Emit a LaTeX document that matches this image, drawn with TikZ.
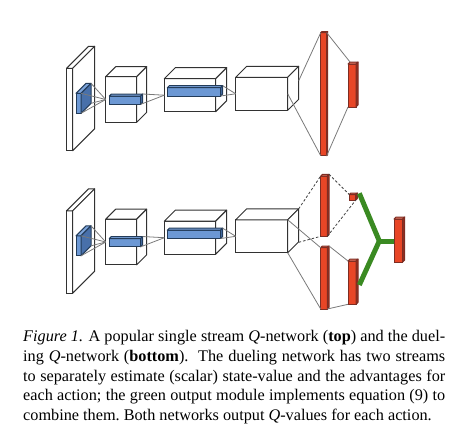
\documentclass[tikz,border=0pt]{standalone}
\usepackage{fontspec}
\setmainfont{Liberation Serif}
\usetikzlibrary{calc}

\definecolor{whitefront}{RGB}{255,255,255}
\definecolor{whitetop}{RGB}{255,255,255}
\definecolor{whiteside}{RGB}{255,255,255}
\definecolor{whiteline}{RGB}{50,50,50}
\definecolor{bluefront}{RGB}{108,152,212}
\definecolor{bluetop}{RGB}{125,165,220}
\definecolor{blueside}{RGB}{72,112,170}
\definecolor{blueline}{RGB}{35,60,90}
\definecolor{redfront}{RGB}{232,70,38}
\definecolor{redtop}{RGB}{225,120,100}
\definecolor{redside}{RGB}{150,45,30}
\definecolor{redline}{RGB}{125,45,35}
\definecolor{greenout}{RGB}{58,138,34}

% name, x, y, width, height, depth, colour set
\newcommand{\cuboid}[7]{%
  \node[face, minimum width=#4bp, minimum height=#5bp, draw=#7line, fill=#7front] (#1) at (#2,#3) {};
  \coordinate (#1-tl) at ($(#1.north west)+(#6,-#6)$);
  \coordinate (#1-tr) at ($(#1.north east)+(#6,-#6)$);
  \coordinate (#1-br) at ($(#1.south east)+(#6,-#6)$);
  \draw[facejoin, draw=#7line, fill=#7top] (#1.north west) -- (#1-tl) -- (#1-tr) -- (#1.north east) -- cycle;
  \draw[facejoin, draw=#7line, fill=#7side] (#1.north east) -- (#1-tr) -- (#1-br) -- (#1.south east) -- cycle;
}

\begin{document}
\begin{tikzpicture}[
    x=1bp, y=-1bp,
    face/.style={rectangle, anchor=north west, inner sep=0pt, outer sep=0pt, line width=1pt},
    facejoin/.style={line width=1pt, line join=round},
    link/.style={draw=gray!95!black, line width=0.8pt},
    dashlink/.style={draw=black!75, line width=0.8pt, dashed, dash pattern=on 2.5pt off 2pt},
    output/.style={draw=greenout, line width=5pt, line join=round}
  ]
    \useasboundingbox (0,0) rectangle (474,431);

    % Convolutional part, same in both networks
    \foreach \net/\yy in {top/0, bot/142.5} {
      \begin{scope}[yshift=-\yy bp]
        \cuboid{\net-input}{66.5}{68.3}{6.2}{82.4}{22}{white}
        \cuboid{\net-cubeA}{105.7}{76.7}{31}{45.6}{10}{white}
        \cuboid{\net-cubeB}{164.3}{78.7}{51.4}{33}{11}{white}
        \cuboid{\net-cubeC}{235.7}{77.3}{52}{33}{11}{white}
        \cuboid{\net-patchA}{76}{93.3}{5}{20}{10}{blue}
        \cuboid{\net-patchB}{109.3}{96}{31.4}{8.3}{2}{blue}
        \cuboid{\net-patchC}{167.3}{87.7}{53.4}{8.3}{2}{blue}

        % Receptive fields
        \draw[link] (\net-patchA.north east) -- (\net-cubeA.west);
        \draw[link] (\net-patchA.south east) -- (\net-cubeA.west);
        \draw[link] (\net-patchA-tr) -- (\net-cubeA.west);
        \draw[link] (\net-patchA-br) -- (\net-cubeA.west);
        \draw[link] (\net-patchB-tr) -- (\net-cubeB.west);
        \draw[link] (\net-patchB.south east) -- (\net-cubeB.west);
        \draw[link] (\net-patchC-tr) -- (\net-cubeC.west);
        \draw[link] (\net-patchC.south east) -- (\net-cubeC.west);
      \end{scope}
    }

    % Single stream
    \cuboid{fc}{320.7}{32.7}{6}{123}{1}{red}
    \cuboid{qtop}{348}{64}{8}{43}{2}{red}
    \coordinate (fcin) at (298.7,80.7);
    \draw[link] (fcin) -- (fc.north west);
    \draw[link] (top-cubeC.east) -- (fc.south west);
    \draw[link] (fc.north east) -- (qtop-tl);
    \draw[link] (fc.south east) -- (qtop.south west);

    % Dueling streams
    \cuboid{fcval}{320.7}{176}{6.6}{60.3}{1.7}{red}
    \cuboid{fcadv}{320.7}{247.7}{6.6}{61.3}{1.7}{red}
    \cuboid{val}{349.3}{194.5}{6.5}{5.5}{1.5}{red}
    \cuboid{adv}{348}{261}{8}{43.3}{2}{red}
    \cuboid{qbot}{394}{219}{8.7}{43}{2}{red}

    \draw[dashlink] (bot-cubeC-tr) -- (fcval.north west);
    \coordinate (valin) at (298.7,242.3);
    \draw[dashlink] (valin) -- (fcval.south west);
    \draw[dashlink] (fcval-tr) -- (val.north west);
    \draw[dashlink] (fcval.south east) -- (val.south east);
    \draw[link] (bot-cubeC.north east) -- (fcadv.north west);
    \draw[link] (bot-cubeC.south east) -- (fcadv.south west);
    \draw[link] (fcadv-tr) -- (adv.north west);
    \draw[link] (fcadv.south east) -- (adv.south west);

    % Green output module
    \coordinate (valout) at (359.3,193.3);
    \coordinate (advout) at (359.3,285);
    \coordinate (merge) at (379.3,241);
    \draw[output] (valout) -- (merge) -- (advout);
    \draw[output] (merge) -- (qbot.west |- merge);

    % Caption
    \node[anchor=north west, inner sep=0pt, align=left, font=\fontsize{16.3}{19.7}\selectfont] (caption) at (23,330.5) {%
      \makebox[422bp][s]{\textit{Figure 1.} A popular single stream \textit{Q}-network (\textbf{top}) and the duel-}\\
      \makebox[422bp][s]{ing \textit{Q}-network (\textbf{bottom}).\ \ The dueling network has two streams}\\
      \makebox[422bp][s]{to separately estimate (scalar) state-value and the advantages for}\\
      \makebox[422bp][s]{each action; the green output module implements equation (9) to}\\
      combine them.\ Both networks output \textit{Q}-values for each action.};
  \end{tikzpicture}
\end{document}
